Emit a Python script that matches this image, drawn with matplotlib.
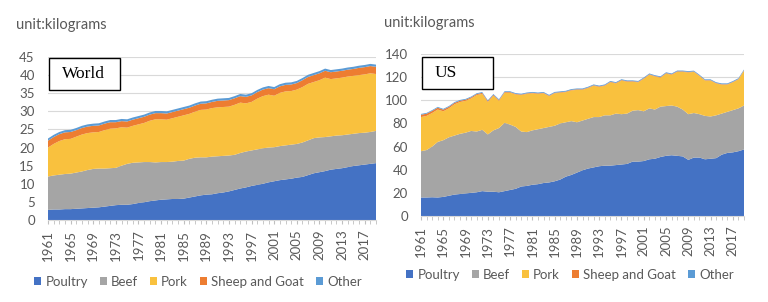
import matplotlib
matplotlib.use("Agg")
import matplotlib.pyplot as plt
from matplotlib.patches import Rectangle
from matplotlib.ticker import MultipleLocator

plt.rcParams["font.family"] = ["Lato", "DejaVu Sans"]

years = list(range(1961, 2020))
series_names = ["Poultry", "Beef", "Pork", "Sheep and Goat", "Other"]
colors = ["#4472C4", "#A5A5A5", "#F9C13E", "#ED7D31", "#5B9BD5"]

world_poultry = [2.8,2.9,2.9,3.0,3.0,3.1,3.2,3.3,3.4,3.5,3.7,3.9,4.1,4.2,4.2,4.4,4.7,4.9,5.2,5.4,
                 5.6,5.7,5.8,5.8,5.9,6.2,6.5,6.8,7.0,7.1,7.4,7.6,7.9,8.3,8.7,9.0,9.4,9.7,10.0,10.4,
                 10.7,11.0,11.2,11.4,11.7,11.9,12.4,12.9,13.2,13.5,13.9,14.1,14.3,14.6,14.9,15.1,15.3,15.5,15.7]
world_beef = [9.2,9.4,9.6,9.7,9.8,10.0,10.2,10.5,10.7,10.7,10.5,10.4,10.3,10.8,11.3,11.4,11.2,11.1,10.8,10.5,
              10.4,10.3,10.3,10.5,10.5,10.7,10.7,10.5,10.3,10.4,10.2,10.1,9.9,9.7,9.8,9.9,9.8,9.8,9.8,9.6,
              9.4,9.4,9.4,9.4,9.3,9.5,9.6,9.7,9.6,9.4,9.2,9.2,9.1,9.0,8.9,8.9,8.8,8.8,8.9]
world_pork = [8.0,8.7,9.3,9.6,9.6,9.9,10.2,10.2,10.1,10.1,10.6,10.9,10.9,10.6,10.0,10.2,10.5,10.8,11.4,11.9,
              11.8,11.7,12.0,12.2,12.5,12.4,12.7,13.1,13.2,13.4,13.5,13.5,13.5,13.8,13.9,13.3,13.4,14.0,14.4,14.6,
              14.2,14.7,14.9,14.8,15.0,15.3,15.6,15.5,15.8,16.4,15.8,15.8,15.9,16.0,16.0,16.0,16.1,16.2,15.7]
world_sheep = [1.9,1.9,1.9,1.9,1.9,1.8,1.8,1.8,1.8,1.8,1.8,1.8,1.7,1.7,1.7,1.7,1.7,1.7,1.7,1.7,
               1.7,1.7,1.7,1.7,1.7,1.7,1.7,1.7,1.7,1.7,1.8,1.8,1.8,1.8,1.8,1.8,1.8,1.8,1.8,1.8,
               1.8,1.8,1.8,1.8,1.8,1.9,1.9,1.9,1.9,1.9,1.9,1.9,1.9,1.9,1.9,2.0,2.0,2.0,2.0]
world_other = [0.6,0.6,0.6,0.6,0.6,0.6,0.6,0.6,0.6,0.6,0.6,0.6,0.6,0.6,0.6,0.6,0.6,0.6,0.6,0.6,
               0.6,0.6,0.6,0.6,0.6,0.6,0.6,0.6,0.6,0.6,0.6,0.6,0.6,0.6,0.6,0.6,0.6,0.6,0.6,0.6,
               0.6,0.6,0.6,0.6,0.6,0.6,0.6,0.6,0.6,0.6,0.6,0.6,0.6,0.6,0.6,0.6,0.6,0.6,0.6]

us_poultry = [16.0,16.0,16.2,16.0,16.5,17.5,18.5,19.0,19.5,20.0,20.5,21.5,21.0,21.0,20.5,21.5,22.5,23.5,25.5,26.0,
              27.0,27.5,28.5,29.0,30.0,31.5,34.0,35.5,37.5,39.5,41.0,42.0,43.0,43.5,43.5,44.0,44.5,45.0,47.0,47.0,
              47.5,49.0,49.5,51.0,52.0,52.5,52.0,51.5,48.5,50.5,50.5,49.0,49.5,50.0,53.0,54.5,55.0,56.0,57.5]
us_beef = [40.0,41.0,43.8,48.0,49.0,50.5,51.0,52.0,52.5,53.5,52.5,53.0,49.5,53.0,55.5,59.0,56.5,53.5,47.5,46.5,
           47.0,47.5,47.5,48.0,48.0,48.5,47.0,46.5,43.5,43.0,43.0,43.5,42.5,43.5,43.5,44.5,43.5,43.5,44.0,44.5,
           43.0,44.0,42.5,43.5,43.0,43.0,42.5,40.5,39.5,38.5,37.5,37.5,36.5,37.0,35.5,35.5,36.5,37.0,38.0]
us_pork = [29.5,29.5,29.0,28.0,25.0,25.0,27.0,27.5,27.5,28.0,31.5,31.0,28.0,30.0,23.5,26.0,27.5,28.0,31.5,33.0,
           32.0,30.5,30.0,26.5,28.0,26.5,26.0,26.5,28.0,26.5,26.5,27.0,26.0,25.5,28.5,26.0,29.0,27.5,25.0,24.0,
           28.0,29.0,28.5,25.0,28.0,26.5,30.0,32.5,36.0,35.5,33.0,30.5,31.0,27.5,25.0,23.5,24.0,25.0,30.0]
us_sheep = [2.0,1.9,1.8,1.6,1.4,1.3,1.2,1.1,1.0,1.0,0.9,0.9,0.8,0.7,0.7,0.6,0.6,0.5,0.5,0.5,
            0.5,0.5,0.5,0.5,0.5,0.5,0.5,0.5,0.5,0.5,0.5,0.5,0.5,0.5,0.5,0.5,0.5,0.5,0.5,0.5,
            0.5,0.5,0.5,0.5,0.5,0.5,0.5,0.5,0.5,0.4,0.4,0.4,0.4,0.4,0.4,0.4,0.4,0.4,0.4]
us_other = [0.7,0.7,0.7,0.7,0.7,0.7,0.7,0.7,0.7,0.7,0.7,0.7,0.7,0.7,0.7,0.7,0.7,0.7,0.7,0.7,
            0.7,0.7,0.7,0.7,0.7,0.7,0.7,0.7,0.7,0.7,0.7,0.7,0.7,0.7,0.7,0.7,0.7,0.7,0.7,0.7,
            0.7,0.7,0.7,0.7,0.7,0.7,0.7,0.7,0.7,0.7,0.7,0.7,0.7,0.7,0.7,0.7,0.7,0.7,0.7]

tick_years = list(range(1961, 2018, 4))

TXT = "#595959"
fig = plt.figure(figsize=(7.68, 3.02), dpi=100)
W, H = 768, 302

def fx(px):
    return px / W

def fy(py):
    return 1 - py / H

def make_panel(rect, data, ymax, ystep, label, box, legend_y, legend_x):
    ax = fig.add_axes(rect)
    ax.stackplot(years, *data, colors=colors, labels=series_names, linewidth=0)
    ax.set_xlim(1961, 2019)
    ax.set_ylim(0, ymax)
    ax.yaxis.set_major_locator(MultipleLocator(ystep))
    ax.grid(axis="y", color="#D9D9D9", linewidth=0.8)
    ax.set_axisbelow(True)
    for s in ["top", "right", "left"]:
        ax.spines[s].set_visible(False)
    ax.spines["bottom"].set_color("#D9D9D9")
    ax.set_xticks(tick_years)
    ax.set_xticks(years, minor=True)
    ax.tick_params(axis="x", which="both", length=3, color="#BFBFBF", direction="out")
    ax.tick_params(axis="x", labelrotation=90, labelsize=9.5, labelcolor=TXT, pad=4)
    ax.tick_params(axis="y", length=0, labelsize=9.5, labelcolor=TXT, pad=9.5)
    x0, y0, x1, y1 = box
    fig.patches.append(Rectangle((fx(x0), fy(y1)), fx(x1) - fx(x0), fy(y0) - fy(y1),
                                 transform=fig.transFigure, facecolor="white",
                                 edgecolor="black", linewidth=1.0, zorder=5))
    fig.text(fx(x0 + 13), fy((y0 + y1) / 2), label, fontfamily="Liberation Serif",
             fontsize=12.5, ha="left", va="center", zorder=6)
    handles, labels = ax.get_legend_handles_labels()
    fig.legend(handles, labels, loc="center", bbox_to_anchor=(fx(legend_x), fy(legend_y)),
               ncol=5, frameon=False, fontsize=9.5, handlelength=0.55, handleheight=0.55,
               handletextpad=0.3, columnspacing=0.9, labelcolor=TXT, borderpad=0)
    return ax

make_panel([fx(48), fy(220), fx(376) - fx(48), fy(57) - fy(220)],
           [world_poultry, world_beef, world_pork, world_sheep, world_other],
           45, 5, "World", (49, 58, 120, 90), 282, 198)
make_panel([fx(421), fy(216), fx(744) - fx(421), fy(54) - fy(216)],
           [us_poultry, us_beef, us_pork, us_sheep, us_other],
           140, 20, "US", (422, 57, 493, 89), 275, 570)

fig.text(fx(16), fy(25), "unit:kilograms", fontsize=10.5, color=TXT, va="center", ha="left")
fig.text(fx(384), fy(23), "unit:kilograms", fontsize=10.5, color=TXT, va="center", ha="left")

fig.savefig("out.png", dpi=100)
